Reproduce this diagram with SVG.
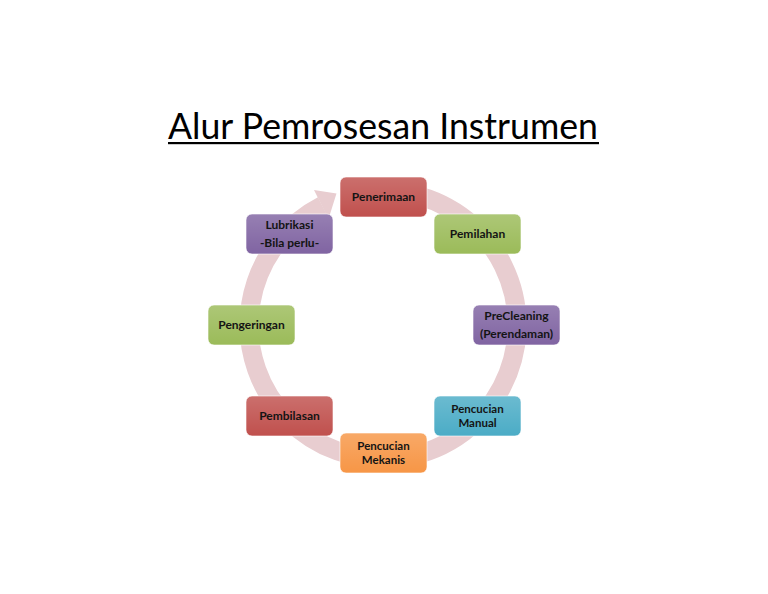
<svg xmlns="http://www.w3.org/2000/svg" width="768" height="594" viewBox="0 0 768 594">
<defs>
<linearGradient id="sheen" x1="0" y1="0" x2="0" y2="1">
<stop offset="0" stop-color="#ffffff" stop-opacity="0.18"/>
<stop offset="1" stop-color="#ffffff" stop-opacity="0"/>
</linearGradient>
</defs>
<style>
.box{stroke:#ffffff;stroke-opacity:0.6;stroke-width:1}
.sh{fill:url(#sheen)}
.red{fill:#c0504d}
.green{fill:#9bbb59}
.purple{fill:#8064a2}
.aqua{fill:#4bacc6}
.orange{fill:#f79646}
.lbl{font-family:Lato,"Liberation Sans",sans-serif;font-weight:bold;font-size:12px;fill:#141414;text-anchor:middle}
.tight{font-size:11.5px}
.title{font-family:Lato,"Liberation Sans",sans-serif;font-size:36px;fill:#000000}
</style>
<rect width="768" height="594" fill="#ffffff"/>
<g id="title">
<text class="title" x="168" y="139" textLength="430" lengthAdjust="spacingAndGlyphs">Alur Pemrosesan Instrumen</text>
<rect x="168" y="142" width="431" height="2.2" fill="#000000"/>
</g>
<g id="connectors">
<path d="M406.3,193 A134,134 0 1 1 322.2,205.6" fill="none" stroke="#e8cdd0" stroke-width="19"/>
<polygon points="314,190 336.5,193.5 328.5,219" fill="#e8cdd0"/>
</g>
<g id="n1"><rect class="box red" x="340" y="177" width="87" height="40" rx="6"/><rect class="sh" x="340" y="177" width="87" height="40" rx="6"/><text class="lbl" x="383.5" y="201">Penerimaan</text></g>
<g id="n2"><rect class="box green" x="434" y="214" width="87" height="40" rx="6"/><rect class="sh" x="434" y="214" width="87" height="40" rx="6"/><text class="lbl" x="477.5" y="238">Pemilahan</text></g>
<g id="n3"><rect class="box purple" x="473" y="305" width="87" height="40" rx="6"/><rect class="sh" x="473" y="305" width="87" height="40" rx="6"/><text class="lbl" x="516.5" y="319.7">PreCleaning</text><text class="lbl" x="516.5" y="338.3">(Perendaman)</text></g>
<g id="n4"><rect class="box aqua" x="434" y="396" width="87" height="40" rx="6"/><rect class="sh" x="434" y="396" width="87" height="40" rx="6"/><text class="lbl tight" x="477.5" y="412.5">Pencucian</text><text class="lbl tight" x="477.5" y="426.5">Manual</text></g>
<g id="n5"><rect class="box orange" x="340" y="433" width="87" height="40" rx="6"/><rect class="sh" x="340" y="433" width="87" height="40" rx="6"/><text class="lbl tight" x="383.5" y="449.8">Pencucian</text><text class="lbl tight" x="383.5" y="463.8">Mekanis</text></g>
<g id="n6"><rect class="box red" x="246" y="396" width="87" height="40" rx="6"/><rect class="sh" x="246" y="396" width="87" height="40" rx="6"/><text class="lbl" x="289.5" y="420">Pembilasan</text></g>
<g id="n7"><rect class="box green" x="208" y="305" width="87" height="40" rx="6"/><rect class="sh" x="208" y="305" width="87" height="40" rx="6"/><text class="lbl" x="251.5" y="329">Pengeringan</text></g>
<g id="n8"><rect class="box purple" x="246" y="214" width="87" height="40" rx="6"/><rect class="sh" x="246" y="214" width="87" height="40" rx="6"/><text class="lbl" x="289.5" y="229">Lubrikasi</text><text class="lbl" x="289.5" y="246.7">-Bila perlu-</text></g>
</svg>
